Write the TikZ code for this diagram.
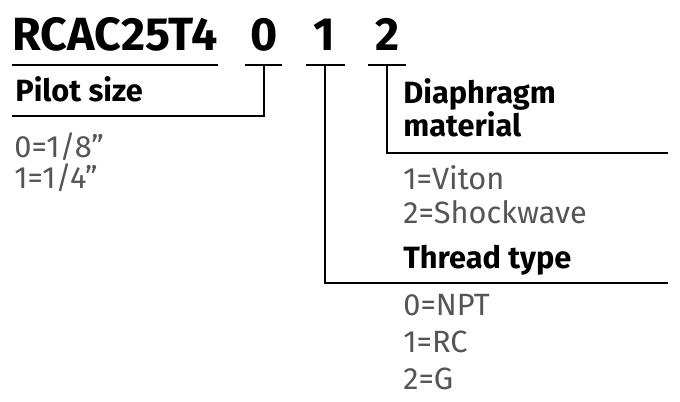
\documentclass[tikz,border=0pt]{standalone}
\usepackage{fontspec}
\setmainfont{Fira Sans}
\usetikzlibrary{positioning}
\definecolor{codegrey}{HTML}{555555}

\begin{document}
\begin{tikzpicture}[x=0.02cm,y=-0.02cm,
  code/.style={anchor=base west,inner sep=0pt,font=\fontsize{26.5pt}{30pt}\selectfont\bfseries},
  head/.style={anchor=base west,inner sep=0pt,font=\fontsize{17.5pt}{20pt}\selectfont\bfseries},
  item/.style={anchor=base west,inner sep=0pt,text=codegrey,font=\fontsize{17.5pt}{20pt}\selectfont\light},
  bar/.style={line width=1.4pt},
  lead/.style={line width=0.8pt}]
\providecommand\light{\fontseries{l}\selectfont}
\useasboundingbox (0,0) rectangle (680,402);

% Code
\node[code] (model) at (12,51) {RCAC25T4};
\node[code] (c0) at (250,51) {0};
\node[code] (c1) at (313,51) {1};
\node[code] (c2) at (375,51) {2};
\draw[bar] (12,65) -- (218,65);
\draw[bar] (245,65) -- (282,65);
\draw[bar] (306,65) -- (345,65);
\draw[bar] (368,65) -- (406,65);

% Pilot size
\node[head] (pilot) at (15,102) {Pilot size};
\draw[lead] (264,65) -- (264,116) -- (12,116);
\node[item] (p0) at (14,157) {0=1/8”};
\node[item] (p1) at (14,189) {1=1/4”};

% Diaphragm material
\node[head] (diaph) at (403,104) {Diaphragm};
\node[head] (mat) at (403,137) {material};
\draw[lead] (387,65) -- (387,153) -- (668,153);
\node[item] (d1) at (403,190) {1=Viton};
\node[item] (d2) at (403,223) {2=Shockwave};

% Thread type
\node[head] (thread) at (403,268) {Thread type};
\draw[lead] (325,65) -- (325,283) -- (668,283);
\node[item] (t0) at (403,315) {0=NPT};
\node[item] (t1) at (403,352) {1=RC};
\node[item] (t2) at (403,389) {2=G};
\end{tikzpicture}
\end{document}
